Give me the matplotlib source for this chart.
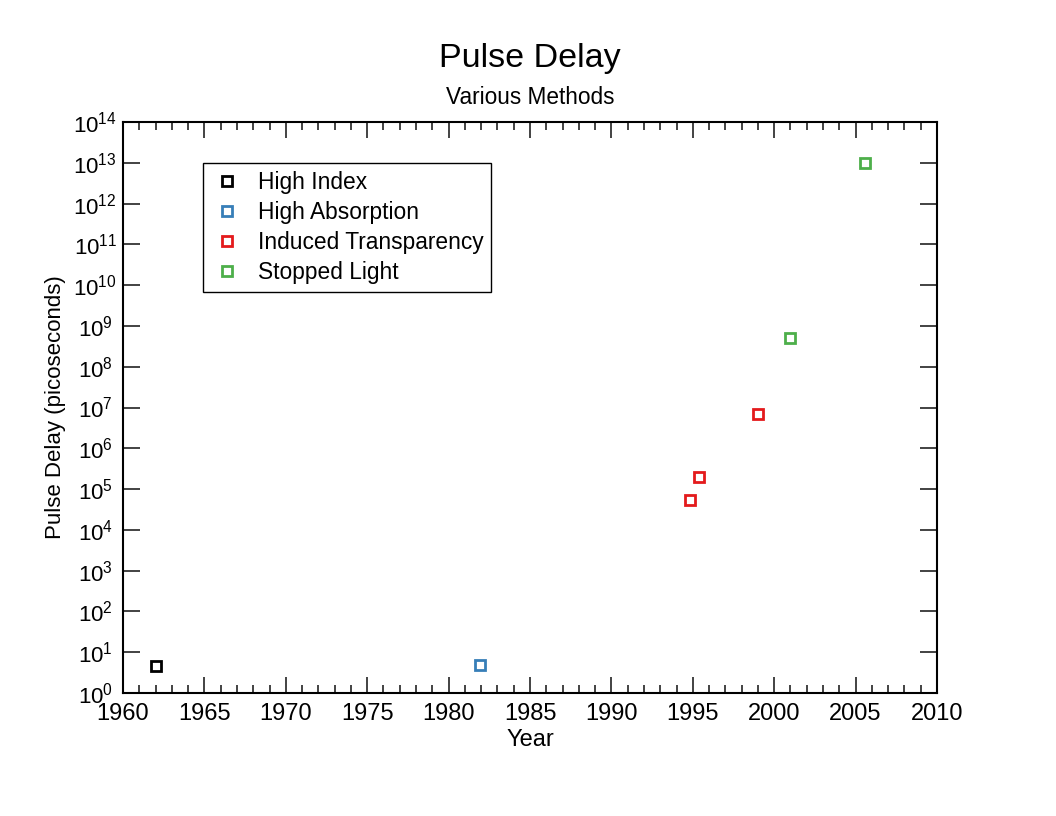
import numpy as np
import matplotlib
matplotlib.use("Agg")
import matplotlib.pyplot as plt
from matplotlib.ticker import MultipleLocator, FixedLocator

plt.rcParams['font.family'] = ['Liberation Sans', 'DejaVu Sans']
plt.rcParams['mathtext.fontset'] = 'custom'
plt.rcParams['mathtext.rm'] = 'Liberation Sans'
plt.rcParams['mathtext.it'] = 'Liberation Sans'
plt.rcParams['mathtext.default'] = 'regular'

# data
series_names = ['High Index', 'High Absorption', 'Induced Transparency', 'Stopped Light']
series_colors = ['#000000', '#377eb8', '#e41a1c', '#4daf4a']
years = [
    [1962.0],
    [1981.9],
    [1994.8, 1995.4, 1999.0],
    [2001.0, 2005.6],
]
delays = [
    [4.6],
    [4.9],
    [5.4e4, 2.0e5, 7.0e6],
    [5.0e8, 1.0e13],
]
decades = list(range(15))

fig = plt.figure(figsize=(10.56, 8.16), dpi=100)
ax = fig.add_axes([0.1165, 0.1507, 0.7708, 0.6998])

for nome, cor, xs, ys in zip(series_names, series_colors, years, delays):
    ax.plot(xs, ys, linestyle='none', marker='s', markersize=7.5,
            markerfacecolor='none', markeredgecolor=cor, markeredgewidth=2,
            label=nome)

ax.set_yscale('log')
ax.set_xlim(1960, 2010)
ax.set_ylim(1, 1e14)

# ticks para dentro, em todos os lados
ax.xaxis.set_major_locator(MultipleLocator(5))
ax.xaxis.set_minor_locator(MultipleLocator(1))
ax.yaxis.set_major_locator(FixedLocator([10.0 ** k for k in decades]))
ax.yaxis.set_minor_locator(FixedLocator([]))
ax.set_yticklabels(['$10^{%d}$' % k for k in decades])
ax.tick_params(which='both', direction='in', top=True, right=True,
               width=1.2, color='#222222')
ax.tick_params(axis='x', which='major', length=11.5, pad=7, labelsize=17)
ax.tick_params(axis='x', which='minor', length=5.8)
ax.tick_params(axis='y', which='major', length=12, pad=20, labelsize=16)
for lab in ax.get_yticklabels():
    lab.set_horizontalalignment('center')
for sp in ax.spines.values():
    sp.set_linewidth(1.5)

ax.set_xlabel('Year', fontsize=17, labelpad=3)
ax.set_ylabel('Pulse Delay (picoseconds)', fontsize=16, labelpad=5.5)

fig.text(0.502, 0.918, 'Pulse Delay', ha='center', va='baseline', fontsize=24.5)
fig.text(0.502, 0.8725, 'Various Methods', ha='center', va='baseline', fontsize=16.3)

leg = ax.legend(loc='upper left', bbox_to_anchor=(0.098, 0.928), fontsize=16.4,
                frameon=True, fancybox=False, borderpad=0.35, labelspacing=0.31,
                handlelength=1.4, handletextpad=0.66, borderaxespad=0,
                markerscale=0.9)
leg.get_frame().set_edgecolor('black')
leg.get_frame().set_linewidth(1.0)
leg.get_frame().set_alpha(1)

fig.savefig('out.png', dpi=100)
